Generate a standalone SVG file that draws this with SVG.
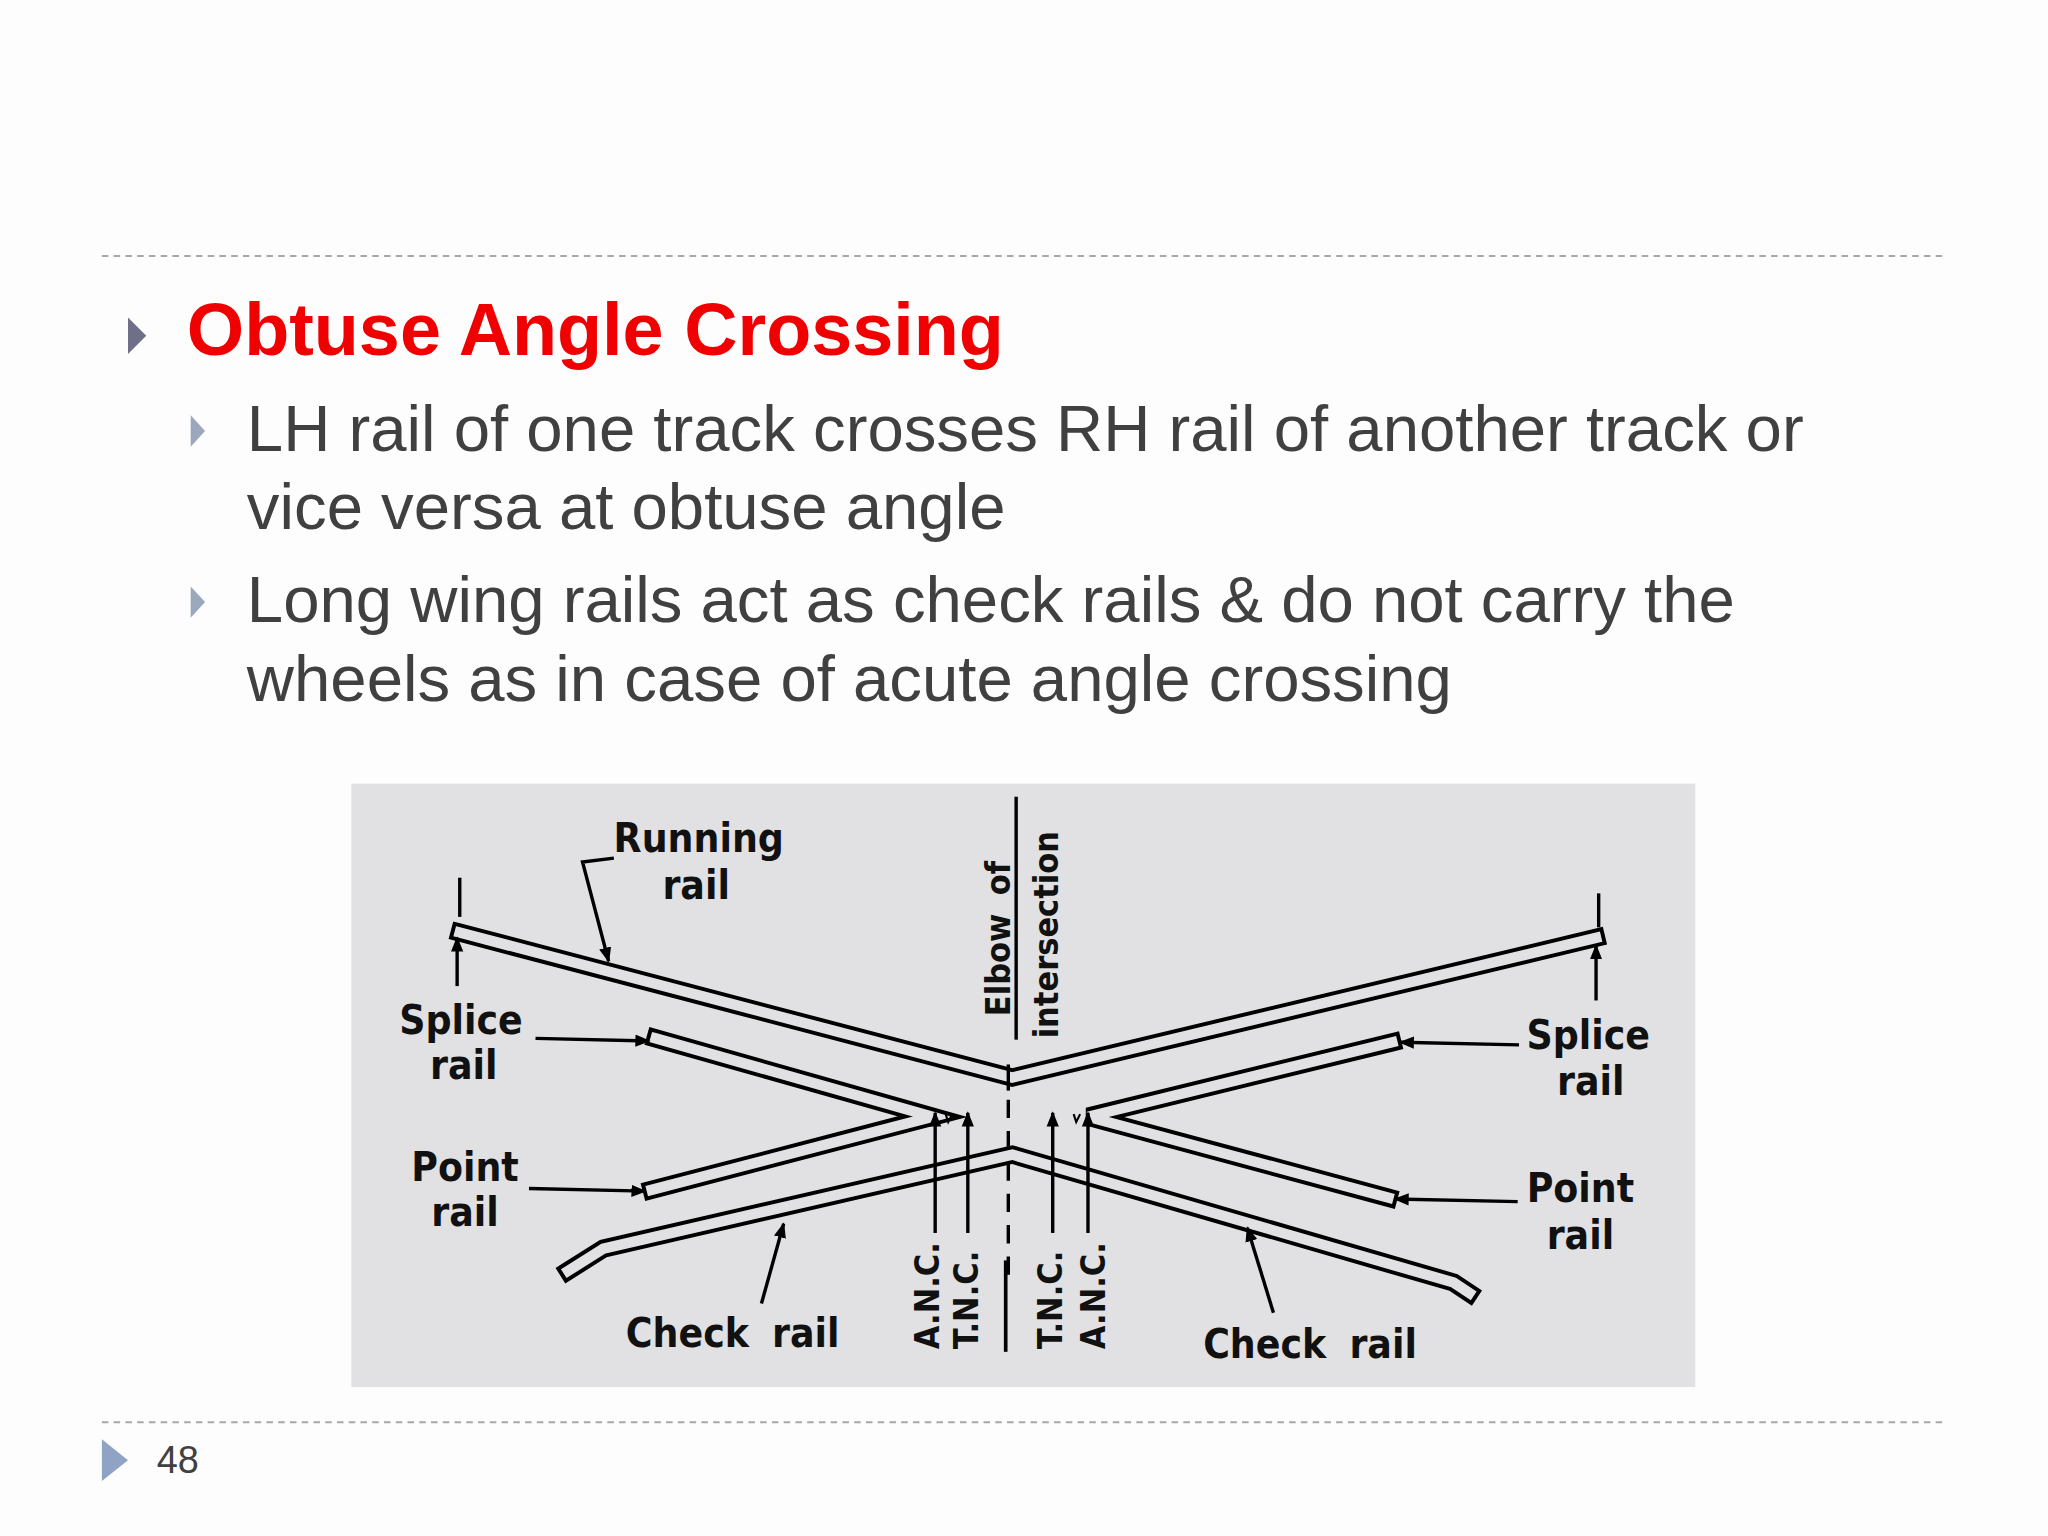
<svg xmlns="http://www.w3.org/2000/svg" width="2048" height="1536" viewBox="0 0 2048 1536">
<defs>
<marker id="ah" viewBox="0 0 10 10" refX="9" refY="5" markerWidth="4.5" markerHeight="4.5" orient="auto" markerUnits="strokeWidth"><path d="M0,1 L10,5 L0,9 Z" fill="#000"/></marker>
<style>
.rail{fill:none;stroke:#000;stroke-width:14;stroke-linejoin:miter;stroke-linecap:square}
.railin{fill:none;stroke:#e1e1e3;stroke-width:8;stroke-linejoin:miter;stroke-linecap:square}
.ld{fill:none;stroke:#000;stroke-width:2.6;marker-end:url(#ah)}
.ln{fill:none;stroke:#000;stroke-width:2.6}
.lab{font-family:"DejaVu Sans Condensed","DejaVu Sans",sans-serif;font-weight:bold;font-size:31px;fill:#111;text-anchor:middle}
.sm{font-family:"DejaVu Sans Condensed","DejaVu Sans",sans-serif;font-weight:bold;font-size:26px;fill:#111}
.body{font-family:"Liberation Sans",Arial,sans-serif;font-size:50px;fill:#404040}
</style>
</defs>
<rect width="2048" height="1536" fill="#fdfdfd"/>
<g transform="scale(1.3061)">
<line x1="78" y1="196" x2="1490" y2="196" stroke="#a8a8a8" stroke-width="1.5" stroke-dasharray="5,4"/>
<line x1="78" y1="1089" x2="1490" y2="1089" stroke="#a8a8a8" stroke-width="1.5" stroke-dasharray="5,4"/>
<path d="M98,243 L112,257 L98,271 Z" fill="#6f7088"/>
<text x="143" y="272" font-family="Liberation Sans,Arial,sans-serif" font-weight="bold" font-size="56.5" fill="#f00000">Obtuse Angle Crossing</text>
<path d="M146,318 L157,330 L146,342 Z" fill="#9aa7bd"/>
<path d="M146,449 L157,461 L146,473 Z" fill="#9aa7bd"/>
<text class="body" x="189" y="345">LH rail of one track crosses RH rail of another track or</text>
<text class="body" x="189" y="405">vice versa at obtuse angle</text>
<text class="body" x="189" y="476">Long wing rails act as check rails &amp; do not carry the</text>
<text class="body" x="189" y="537">wheels as in case of acute angle crossing</text>
<path d="M78,1102 L98,1118 L78,1134 Z" fill="#8fa4c4"/>
<text x="120" y="1128" font-family="Liberation Sans,Arial,sans-serif" font-size="29" fill="#404040">48</text>

<rect x="269" y="600" width="1029" height="462" fill="#e1e1e3"/>
<g id="rails">
<polyline class="rail" points="352,714 775,825 1222,718"/>
<polyline class="railin" points="352,714 775,825 1222,718"/>
<polyline class="rail" points="502,795 714,855 499,911"/>
<polyline class="railin" points="502,795 714,855 499,911"/>
<polyline class="rail" points="1066,798 833,855 1063,917"/>
<polyline class="railin" points="1066,798 833,855 1063,917"/>
<polyline class="rail" points="435,973 462,956 775,884 1113,982 1125,990"/>
<polyline class="railin" points="435,973 462,956 775,884 1113,982 1125,990"/>
</g>
<g id="connectors">
<line class="ln" x1="352" y1="672" x2="352" y2="702"/>
<line class="ld" x1="350" y1="755" x2="350" y2="718"/>
<line class="ln" x1="1224" y1="684" x2="1224" y2="710"/>
<line class="ld" x1="1222" y1="766" x2="1222" y2="724"/>
<polyline class="ld" points="470,657 446,660 466,736"/>
<line class="ld" x1="410" y1="795" x2="497" y2="797"/>
<line class="ld" x1="405" y1="910" x2="494" y2="912"/>
<line class="ld" x1="1163" y1="800" x2="1072" y2="798"/>
<line class="ld" x1="1162" y1="920" x2="1068" y2="918"/>
<line class="ld" x1="583" y1="998" x2="600" y2="937"/>
<line class="ld" x1="975" y1="1005" x2="955" y2="940"/>
<line class="ld" x1="716" y1="944" x2="716" y2="852"/>
<line class="ld" x1="741" y1="944" x2="741" y2="852"/>
<line class="ld" x1="806" y1="944" x2="806" y2="852"/>
<line class="ld" x1="833" y1="944" x2="833" y2="852"/>
<line x1="772" y1="815" x2="772" y2="835" stroke="#000" stroke-width="2.6"/>
<line x1="772" y1="842" x2="772" y2="985" stroke="#000" stroke-width="2.6" stroke-dasharray="14,10"/>
<line x1="770" y1="965" x2="770" y2="1035" stroke="#000" stroke-width="2.8"/>
<line x1="778" y1="610" x2="778" y2="796" stroke="#000" stroke-width="2.6"/>
<path d="M724,853 l2,6 l3,-6 M822,853 l2,6 l3,-6" fill="none" stroke="#000" stroke-width="1.6"/>
</g>
<g id="labels">
<text class="lab" x="535" y="652">Running</text>
<text class="lab" x="533" y="688">rail</text>
<text class="lab" x="353" y="792">Splice</text>
<text class="lab" x="355" y="826">rail</text>
<text class="lab" x="356" y="904">Point</text>
<text class="lab" x="356" y="939">rail</text>
<text class="lab" x="1216" y="803">Splice</text>
<text class="lab" x="1218" y="838">rail</text>
<text class="lab" x="1210" y="920">Point</text>
<text class="lab" x="1210" y="956">rail</text>
<text class="lab" x="561" y="1031" word-spacing="8">Check rail</text>
<text class="lab" x="1003" y="1040" word-spacing="8">Check rail</text>
<text class="sm" transform="translate(719,1033) rotate(-90)">A.N.C.</text>
<text class="sm" transform="translate(749,1033) rotate(-90)">T.N.C.</text>
<text class="sm" transform="translate(813,1033) rotate(-90)">T.N.C.</text>
<text class="sm" transform="translate(846,1033) rotate(-90)">A.N.C.</text>
<text class="sm" transform="translate(773,778) rotate(-90)" font-size="30" word-spacing="6">Elbow of</text>
<text class="sm" transform="translate(810,795) rotate(-90)" font-size="30">intersection</text>
</g>
</g>
</svg>
